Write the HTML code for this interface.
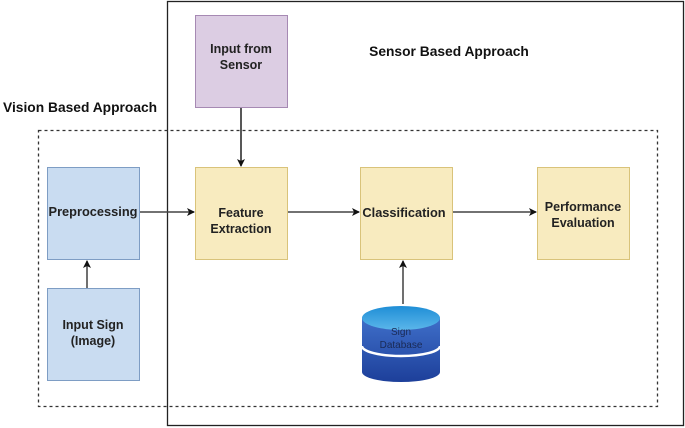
<!DOCTYPE html>
<html><head><meta charset="utf-8"><style>
html,body{margin:0;padding:0;background:#fff;}
svg{display:block;font-family:"Liberation Sans",sans-serif;}
</style></head><body>
<svg width="685" height="428" viewBox="0 0 685 428" xmlns="http://www.w3.org/2000/svg">
<defs>
<marker id="ah" markerWidth="8" markerHeight="8" refX="7" refY="4" orient="auto" markerUnits="userSpaceOnUse">
<path d="M0,0 L8,4 L0,8 L2,4 Z" fill="#111"/></marker>
<linearGradient id="cyl" x1="0" y1="0" x2="0" y2="1">
<stop offset="0" stop-color="#3f6fc9"/><stop offset="1" stop-color="#1d3f9a"/></linearGradient>
<linearGradient id="top" x1="0" y1="0" x2="0" y2="1">
<stop offset="0" stop-color="#1f8ed6"/><stop offset="1" stop-color="#5bb6ea"/></linearGradient>
</defs>
<rect x="167.5" y="1.5" width="516" height="424" fill="none" stroke="#222" stroke-width="1.3"/>
<rect x="38.5" y="130.5" width="619" height="276" fill="none" stroke="#333" stroke-width="1.3" stroke-dasharray="3,3"/>
<text x="3" y="112" font-size="13.8" font-weight="bold" fill="#111">Vision Based Approach</text>
<text x="449" y="56" font-size="13.8" font-weight="bold" fill="#111" text-anchor="middle">Sensor Based Approach</text>

<rect x="195.5" y="15.5" width="92" height="92" fill="#dccde3" stroke="#a689b3"/>
<text x="241" y="53" font-size="12.5" font-weight="bold" text-anchor="middle" fill="#222">Input from</text>
<text x="241" y="69" font-size="12.5" font-weight="bold" text-anchor="middle" fill="#222">Sensor</text>

<rect x="47.5" y="167.5" width="92" height="92" fill="#c9dcf1" stroke="#7e9dc4"/>
<text x="93" y="216" font-size="12.8" font-weight="bold" text-anchor="middle" fill="#222">Preprocessing</text>

<rect x="47.5" y="288.5" width="92" height="92" fill="#c9dcf1" stroke="#7e9dc4"/>
<text x="93" y="329" font-size="12.5" font-weight="bold" text-anchor="middle" fill="#222">Input Sign</text>
<text x="93" y="345" font-size="12.5" font-weight="bold" text-anchor="middle" fill="#222">(Image)</text>

<rect x="195.5" y="167.5" width="92" height="92" fill="#f8ebbf" stroke="#d9c37a"/>
<text x="241" y="217" font-size="12.5" font-weight="bold" text-anchor="middle" fill="#222">Feature</text>
<text x="241" y="233" font-size="12.5" font-weight="bold" text-anchor="middle" fill="#222">Extraction</text>

<rect x="360.5" y="167.5" width="92" height="92" fill="#f8ebbf" stroke="#d9c37a"/>
<text x="404" y="217" font-size="12.8" font-weight="bold" text-anchor="middle" fill="#222">Classification</text>

<rect x="537.5" y="167.5" width="92" height="92" fill="#f8ebbf" stroke="#d9c37a"/>
<text x="583" y="211" font-size="12.5" font-weight="bold" text-anchor="middle" fill="#222">Performance</text>
<text x="583" y="227" font-size="12.5" font-weight="bold" text-anchor="middle" fill="#222">Evaluation</text>

<line x1="241" y1="108" x2="241" y2="166" stroke="#111" stroke-width="1.4" marker-end="url(#ah)"/>
<line x1="140" y1="212" x2="194" y2="212" stroke="#444" stroke-width="1.4" marker-end="url(#ah)"/>
<line x1="288" y1="212" x2="359" y2="212" stroke="#444" stroke-width="1.4" marker-end="url(#ah)"/>
<line x1="453" y1="212" x2="536" y2="212" stroke="#444" stroke-width="1.4" marker-end="url(#ah)"/>
<line x1="87" y1="288" x2="87" y2="261" stroke="#333" stroke-width="1.4" marker-end="url(#ah)"/>
<line x1="403" y1="304" x2="403" y2="261" stroke="#333" stroke-width="1.4" marker-end="url(#ah)"/>

<path d="M362,318 L362,372 A39,10 0 0 0 440,372 L440,318 Z" fill="url(#cyl)"/>
<path d="M362,346 A39,10 0 0 0 440,346" fill="none" stroke="#fff" stroke-width="2.5"/>
<ellipse cx="401" cy="318" rx="39" ry="12" fill="url(#top)"/>
<text x="401" y="335" font-size="10" text-anchor="middle" fill="#1a2a55">Sign</text>
<text x="401" y="348" font-size="10" text-anchor="middle" fill="#1a2a55">Database</text>
</svg>
</body></html>
